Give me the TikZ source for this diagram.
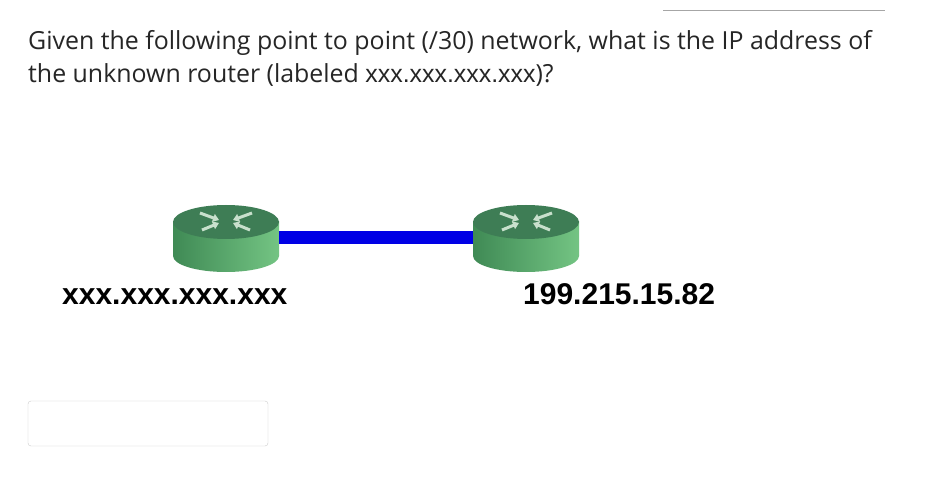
\documentclass[tikz,border=0pt]{standalone}
\usepackage{fontspec}
\setmainfont{Open Sans}
\newfontfamily\lab{Liberation Sans}
\definecolor{rtop}{HTML}{3E7D55}
\definecolor{rsideL}{HTML}{3F8A55}
\definecolor{rsideR}{HTML}{74C483}
\definecolor{rarrow}{HTML}{C8E0CC}
\begin{document}
\begin{tikzpicture}[x=1pt,y=-1pt,
  qtext/.style={anchor=base west,inner sep=0,font=\fontsize{24.9}{28}\selectfont,text=black!85},
  iplabel/.style={anchor=base west,inner sep=0,font=\lab\bfseries\fontsize{30}{32}\selectfont}]
\useasboundingbox (0,0) rectangle (932,478);
\fill[white] (0,0) rectangle (932,478);
\draw[black!35] (663,10) -- (885,10);
\node[qtext] (q1) at (28,50) {Given the following point to point (/30) network, what is the IP address of};
\node[qtext] (q2) at (28,83) {the unknown router (labeled {\lab xxx.xxx.xxx.xxx})?};
\newcommand\router[2]{%
  \begin{scope}[shift={(#1,222)}]
  \shade[left color=rsideL,right color=rsideR] (-53,0) rectangle (53,34);
  \shade[left color=rsideL,right color=rsideR] (0,34) ellipse[x radius=53,y radius=16];
  \fill[rtop] (0,0) ellipse[x radius=53,y radius=17];
  \begin{scope}[rarrow,line width=3pt,->,>={Triangle[length=6pt,width=8pt]}]
  \draw (-26,-9) -- (-7,-2); \draw (-24,8) -- (-7,1);
  \draw (26,-9) -- (7,-2); \draw (24,8) -- (7,1);
  \end{scope}
  \coordinate (#2w) at (-53,16); \coordinate (#2e) at (53,16);
  \end{scope}}
\usetikzlibrary{arrows.meta}
\router{226}{a}
\router{526}{b}
\draw[blue!90!black,line width=13pt] (279,238) -- (473,238);
\node[iplabel] (la) at (62,305) {xxx.xxx.xxx.xxx};
\node[iplabel] (lb) at (523,305) {199.215.15.82};
\draw[black!20,rounded corners=3pt] (28,401) rectangle (268,446);
\end{tikzpicture}
\end{document}
